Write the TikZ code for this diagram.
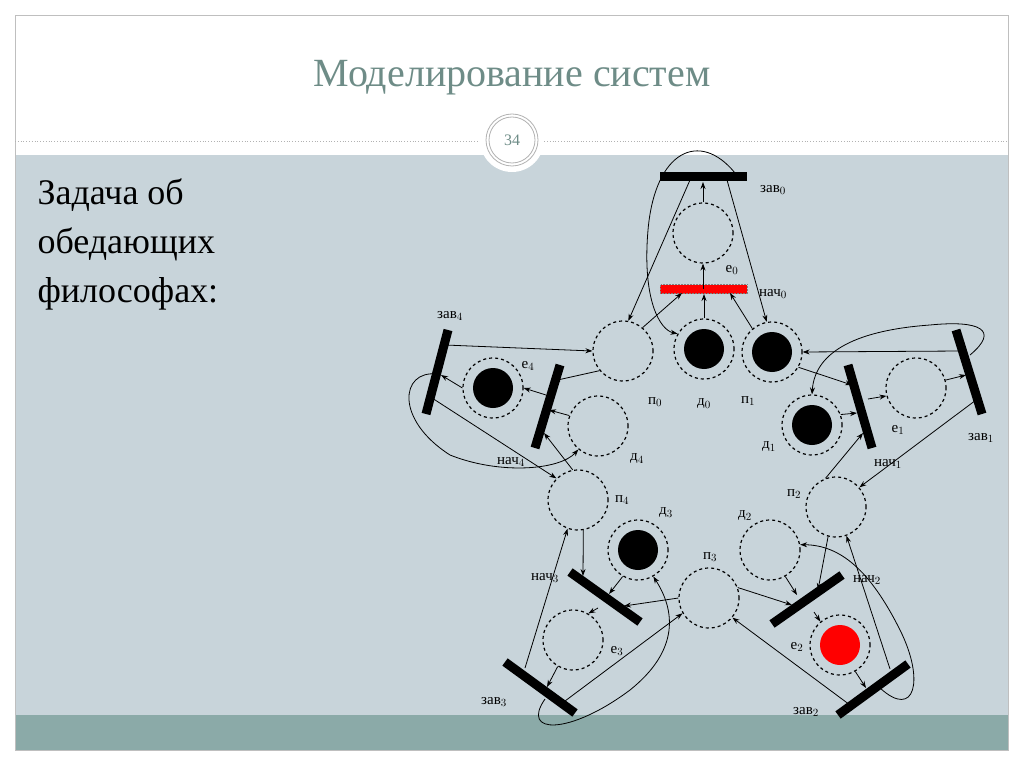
\documentclass[tikz,border=0pt]{standalone}
\usepackage{fontspec}
\setmainfont{Liberation Serif}
\usetikzlibrary{arrows.meta}
\definecolor{bgc}{HTML}{C8D4DA}
\definecolor{barc}{HTML}{8BAAA8}
\definecolor{titc}{HTML}{6E8C87}
\begin{document}
\begin{tikzpicture}[x=1pt,y=-1pt,
 pl/.style={circle,draw,dashed,line width=1.2pt,minimum size=60pt,inner sep=0pt},
 tok/.style={pl,path picture={\fill[#1] (path picture bounding box.center) circle (20pt);}},
 arr/.style={-{Stealth[length=7pt,width=5pt]},line width=0.8pt},
 lb/.style={font=\fontsize{15}{15}\selectfont,inner sep=1pt},
 tb/.style={line width=9pt}]
\useasboundingbox (0,0) rectangle (1024,767);
\fill[white] (0,0) rectangle (1024,767);
\fill[bgc] (15,155) rectangle (1008,715);
\fill[barc] (15,715) rectangle (1008,750);
\draw[gray!50,line width=0.6pt] (15,15) rectangle (1008,750);
\draw[gray!60,dotted,line width=0.8pt] (15,141) -- (1008,141);
\node[titc,font=\fontsize{40}{40}\selectfont] (title) at (512,78) {Моделирование систем};
\fill[white] (512,140) circle (32);
\draw[gray!60,line width=0.8pt] (512,140) circle (26) (512,140) circle (23);
\node[titc,font=\fontsize{16}{16}\selectfont] (num) at (512,140) {34};
\node[anchor=north west,align=left,font=\fontsize{36}{49}\selectfont] (task) at (34,175) {Задача об\\обедающих\\философах:};
% places
\node[pl] (e0) at (703,233) {};
\node[pl] (p0) at (623,351) {};
\node[tok=black] (d0) at (704,349) {};
\node[tok=black] (p1) at (772,352) {};
\node[tok=black] (d1) at (812,425) {};
\node[pl] (e1) at (916,388) {};
\node[pl] (p2) at (836,507) {};
\node[pl] (d2) at (770,550) {};
\node[pl] (p3) at (709,598) {};
\node[tok=red] (e2) at (840,645) {};
\node[tok=black] (d3) at (638,550) {};
\node[pl] (p4) at (578,500) {};
\node[pl] (e3) at (573,640) {};
\node[pl] (d4) at (598,426) {};
\node[tok=black] (e4) at (493,388) {};
% labels
\node[lb] (le0) at (732,270) {е$_0$};
\node[lb] (lp0) at (655,402) {п$_0$};
\node[lb] (ld0) at (704,404) {д$_0$};
\node[lb] (lp1) at (748,401) {п$_1$};
\node[lb] (ld1) at (769,447) {д$_1$};
\node[lb] (le1) at (898,430) {е$_1$};
\node[lb] (lp2) at (794,494) {п$_2$};
\node[lb] (ld2) at (745,516) {д$_2$};
\node[lb] (lp3) at (710,557) {п$_3$};
\node[lb] (le2) at (797,647) {е$_2$};
\node[lb] (ld3) at (666,513) {д$_3$};
\node[lb] (lp4) at (622,500) {п$_4$};
\node[lb] (le3) at (617,651) {е$_3$};
\node[lb] (ld4) at (637,459) {д$_4$};
\node[lb] (le4) at (528,366) {е$_4$};
\node[lb] (lz0) at (773,190) {зав$_0$};
\node[lb] (ln0) at (773,294) {нач$_0$};
\node[lb] (lz4) at (450,316) {зав$_4$};
\node[lb] (ln4) at (511,462) {нач$_4$};
\node[lb] (lz1) at (981,438) {зав$_1$};
\node[lb] (ln1) at (888,464) {нач$_1$};
\node[lb] (ln3) at (545,578) {нач$_3$};
\node[lb] (lz3) at (494,702) {зав$_3$};
\node[lb] (ln2) at (867,580) {нач$_2$};
\node[lb] (lz2) at (806,712) {зав$_2$};
% transitions
\coordinate (z0a) at (660,177); \coordinate (z0b) at (747,177);
\coordinate (n0a) at (660,289); \coordinate (n0b) at (747,289);
\coordinate (z4a) at (448,330); \coordinate (z4b) at (426,414);
\coordinate (n4a) at (560,365); \coordinate (n4b) at (535,448);
\coordinate (z1a) at (956,330); \coordinate (z1b) at (982,414);
\coordinate (n1a) at (848,365); \coordinate (n1b) at (872,448);
\coordinate (n3a) at (570,572); \coordinate (n3b) at (640,622);
\coordinate (z3a) at (505,662); \coordinate (z3b) at (575,713);
\coordinate (n2a) at (772,624); \coordinate (n2b) at (842,575);
\coordinate (z2a) at (838,715); \coordinate (z2b) at (908,664);
\draw[tb] (z0a) -- (z0b);
\draw[tb,red] (n0a) -- (n0b);
\draw[line width=0.5pt,densely dotted,gray] (660,284.5) rectangle (747,293.5);
\foreach \a/\b in {z4a/z4b,n4a/n4b,z1a/z1b,n1a/n1b,n3a/n3b,z3a/z3b,n2a/n2b,z2a/z2b} \draw[tb] (\a) -- (\b);
% arcs top
\draw[arr] (690,180) -- (p0.80);
\draw[arr] (727,180) -- (p1.100);
\draw[arr] (735,173) .. controls (700,130) and (655,150) .. (648,230) .. controls (642,300) and (660,330) .. (d0.150);
\draw[arr] (e0.north) -- (703,182);
\draw[arr] (703,289) -- (e0.south);
\draw[arr] (p0.50) -- (682,293);
\draw[arr] (d0.north) -- (704,294);
\draw[arr] (p1.130) -- (730,293);
% left
\draw[arr] (445,345) -- (p0.west);
\draw[arr] (p0.220) -- (553,381);
\draw[arr] (546,395) -- (e4.east);
\draw[arr] (e4.west) -- (441,375);
\draw[arr] (d4.160) -- (549,410);
\draw[arr] (p4.100) -- (544,433);
\draw[arr] (437,374) .. controls (400,370) and (395,420) .. (450,455) .. controls (500,475) and (560,470) .. (d4.230);
\draw[arr] (432,398) -- (p4.135);
% bottom left
\draw[arr] (p4.280) -- (583,576);
\draw[arr] (525,668) -- (p4.250);
\draw[arr] (d3.240) -- (609,594);
\draw[arr] (598,608) -- (e3.60);
\draw[arr] (e3.240) -- (547,687);
\draw[arr] (p3.west) -- (624,606);
\draw[arr] (565,701) -- (p3.210);
\draw[arr] (545,699) .. controls (520,735) and (570,735) .. (630,690) .. controls (680,650) and (675,610) .. (d3.300);
% right
\draw[arr] (961,351) -- (p1.east);
\draw[arr] (p1.330) -- (852,385);
\draw[arr] (d1.20) -- (857,413);
\draw[arr] (868,399) -- (e1.195);
\draw[arr] (e1.15) -- (966,375);
\draw[arr] (970,355) .. controls (1000,330) and (980,320) .. (930,325) .. controls (860,330) and (815,350) .. (d1.north);
\draw[arr] (p2.110) -- (863,433);
\draw[arr] (976,400) -- (p2.40);
% bottom right
\draw[arr] (p2.255) -- (818,590);
\draw[arr] (d2.300) -- (797,595);
\draw[arr] (814,612) -- (e2.130);
\draw[arr] (e2.300) -- (866,688);
\draw[arr] (890,669) -- (p2.290);
\draw[arr] (850,705) -- (p3.320);
\draw[arr] (p3.20) -- (792,605);
\draw[arr] (880,688) .. controls (915,720) and (925,680) .. (900,630) .. controls (870,570) and (840,545) .. (d2.10);
\end{tikzpicture}
\end{document}
